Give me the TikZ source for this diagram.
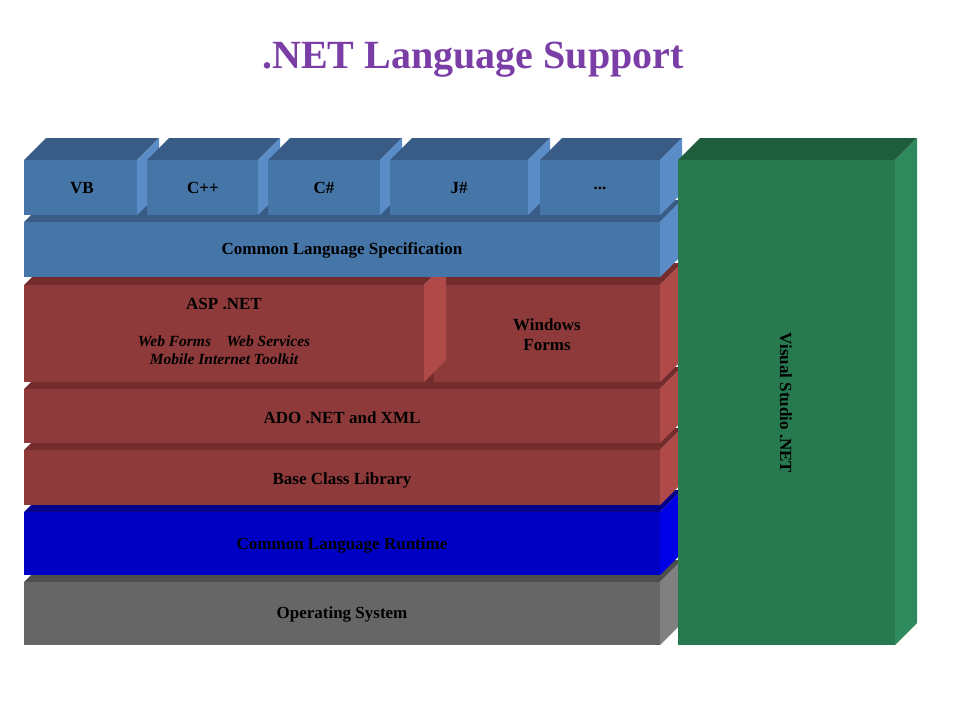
\documentclass[tikz,border=0pt]{standalone}
\usepackage{fontspec}
\setmainfont{Liberation Serif}
\newfontfamily\lab{DejaVu Serif Condensed}
\definecolor{bf}{HTML}{4675A8}\definecolor{bt}{HTML}{385C85}\definecolor{bs}{HTML}{5A8DC8}
\definecolor{rf}{HTML}{8E3A3A}\definecolor{rt}{HTML}{742C2C}\definecolor{rs}{HTML}{B04A48}
\definecolor{cf}{HTML}{0000C4}\definecolor{ct}{HTML}{000088}\definecolor{cs}{HTML}{0000E6}
\definecolor{gf}{HTML}{666666}\definecolor{gt}{HTML}{4E4E4E}\definecolor{gs}{HTML}{808080}
\definecolor{vf}{HTML}{277A4F}\definecolor{vt}{HTML}{1E5E3C}\definecolor{vs}{HTML}{2E8A5C}
\definecolor{ttl}{HTML}{7A3EA6}
\newcommand\cubebox[7]{%
\fill[#6] (#1,#2)--(#1+22,#2-22)--(#3+22,#2-22)--(#3,#2)--cycle;
\fill[#7] (#3,#2)--(#3+22,#2-22)--(#3+22,#4-22)--(#3,#4)--cycle;
\fill[#5] (#1,#2) rectangle (#3,#4);}
\tikzset{lbl/.style={font=\bfseries\fontsize{17}{20}\selectfont, text=black, align=center}}
\begin{document}
\begin{tikzpicture}[x=1pt,y=-1pt]
\useasboundingbox (0,0) rectangle (960,720);
\node[font=\bfseries\fontsize{40}{44}\selectfont, text=ttl] (title) at (473,60) {.NET Language Support};
\cubebox{24}{582}{660}{645}{gf}{gt}{gs}
\cubebox{24}{512}{660}{575}{cf}{ct}{cs}
\cubebox{24}{450}{660}{505}{rf}{rt}{rs}
\cubebox{24}{389}{660}{443}{rf}{rt}{rs}
\cubebox{434}{285}{660}{382}{rf}{rt}{rs}
\cubebox{24}{285}{424}{382}{rf}{rt}{rs}
\cubebox{24}{222}{660}{277}{bf}{bt}{bs}
\cubebox{24}{160}{137}{215}{bf}{bt}{bs}
\cubebox{147}{160}{258}{215}{bf}{bt}{bs}
\cubebox{268}{160}{380}{215}{bf}{bt}{bs}
\cubebox{390}{160}{528}{215}{bf}{bt}{bs}
\cubebox{540}{160}{660}{215}{bf}{bt}{bs}
\cubebox{678}{160}{895}{645}{vf}{vt}{vs}
\node[lbl] (os) at (342,614) {Operating System};
\node[lbl] (clr) at (342,545) {Common Language Runtime};
\node[lbl] (bcl) at (342,480) {Base Class Library};
\node[lbl] (ado) at (342,418) {ADO .NET and XML};
\node[lbl] (win) at (547,335) {Windows\\Forms};
\node[lbl] (asp) at (224,304) {ASP .NET};
\node[lbl, font=\bfseries\itshape\fontsize{15.5}{18}\selectfont] (aspsub) at (224,350) {Web Forms\quad Web Services\\Mobile Internet Toolkit};
\node[lbl] (cls) at (342,250) {Common Language Specification};
\node[lbl] (vb) at (82,188) {VB};
\node[lbl] (cpp) at (203,188) {C++};
\node[lbl] (cs) at (324,188) {C\#};
\node[lbl] (js) at (459,188) {J\#};
\node[lbl] (etc) at (600,188) {...};
\node[lbl, rotate=-90] (vs) at (786,403) {Visual Studio .NET};
\end{tikzpicture}
\end{document}
